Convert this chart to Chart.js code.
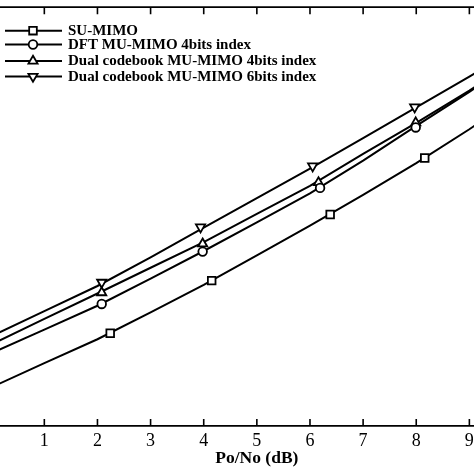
<!DOCTYPE html>
<html>
<head>
<meta charset="utf-8">
<script src="https://cdn.jsdelivr.net/npm/chart.js@4/dist/chart.umd.min.js"></script>
<style>
html,body{margin:0;padding:0;background:#fff;overflow:hidden;width:474px;height:474px;}
#wrap{position:absolute;left:-100px;top:0;width:674px;height:474px;}
</style>
</head>
<body>
<div id="wrap"><canvas id="c" width="674" height="474"></canvas></div>
<script>
// x values (Po/No in dB) for the curves
const snr = [0, 1, 2, 3, 4, 5, 6, 7, 8, 9, 10];
// curve values (y axis is cropped out of the reference)
const suMimo   = [1.29, 2.10, 2.90, 3.80, 4.72, 5.70, 6.70, 7.73, 8.79, 9.92, 11.12];
const dftMu4   = [2.43, 3.22, 4.02, 4.93, 5.85, 6.81, 7.78, 8.87, 10.03, 11.17, 12.39];
const dualMu4  = [2.72, 3.58, 4.43, 5.29, 6.15, 7.09, 8.03, 9.10, 10.13, 11.21, 12.37];
const dualMu6  = [3.00, 3.84, 4.68, 5.64, 6.63, 7.62, 8.60, 9.62, 10.65, 11.68, 12.74];
// marker positions (x, y) as placed in the reference
const suMarkX = [2.24, 4.15, 6.38, 8.16];
const suMarkY = [3.10, 4.86, 7.07, 8.96];
const dftMarkX = [2.08, 3.98, 6.19, 7.99];
const dftMarkY = [4.08, 5.83, 7.96, 9.98];
const d4MarkX = [2.08, 3.98, 6.16, 7.99];
const d4MarkY = [4.46, 6.09, 8.14, 10.14];
const d6MarkX = [2.08, 3.94, 6.05, 7.97];
const d6MarkY = [4.80, 6.65, 8.69, 10.66];
const seriesNames = ['SU-MIMO', 'DFT MU-MIMO 4bits index', 'Dual codebook MU-MIMO 4bits index', 'Dual codebook MU-MIMO 6bits index'];
const xTicks = [0, 1, 2, 3, 4, 5, 6, 7, 8, 9, 10];
const xTitle = 'Po/No (dB)';

const curves = [suMimo, dftMu4, dualMu4, dualMu6];
const marks = [[suMarkX, suMarkY], [dftMarkX, dftMarkY], [d4MarkX, d4MarkY], [d6MarkX, d6MarkY]];
const styles = [
  {pointStyle: 'rect', radius: 5.4, rotation: 0},
  {pointStyle: 'circle', radius: 4.3, rotation: 0},
  {pointStyle: 'triangle', radius: 5.3, rotation: 0},
  {pointStyle: 'triangle', radius: 5.3, rotation: 180}
];

const datasets = [];
curves.forEach((c, i) => {
  datasets.push({
    label: seriesNames[i],
    data: snr.map((x, k) => ({x: x, y: c[k]})),
    borderColor: '#000', borderWidth: 2, pointRadius: 0, fill: false, tension: 0,
    order: 2
  });
});
marks.forEach((m, i) => {
  datasets.push({
    label: seriesNames[i] + ' markers',
    data: m[0].map((x, k) => ({x: x, y: m[1][k]})),
    showLine: false, borderColor: '#000', backgroundColor: '#fff', borderWidth: 1.8,
    pointStyle: styles[i].pointStyle, pointRadius: styles[i].radius, pointRotation: styles[i].rotation,
    order: 1
  });
});

const SERIF = "'Liberation Serif', 'Times New Roman', serif";

const framePlugin = {
  id: 'frame',
  afterDraw(chart) {
    const ctx = chart.ctx, a = chart.chartArea, xs = chart.scales.x;
    ctx.save();
    ctx.strokeStyle = '#000';
    ctx.lineWidth = 1.8;
    ctx.beginPath();
    ctx.moveTo(a.left, a.top); ctx.lineTo(a.right, a.top);
    ctx.stroke();
    ctx.lineWidth = 1.6;
    xs.ticks.forEach(t => {
      const px = xs.getPixelForValue(t.value);
      ctx.beginPath();
      ctx.moveTo(px, a.top); ctx.lineTo(px, a.top + 7);
      ctx.moveTo(px, a.bottom); ctx.lineTo(px, a.bottom - 7);
      ctx.stroke();
    });
    // legend
    const ox = 100;
    const rowsY = [30.7, 44.5, 61, 76.5];
    ctx.font = 'bold 15px ' + SERIF;
    ctx.textBaseline = 'middle';
    seriesNames.forEach((n, i) => {
      const y = rowsY[i];
      ctx.strokeStyle = '#000';
      ctx.lineWidth = 2;
      ctx.beginPath();
      ctx.moveTo(ox + 5, y); ctx.lineTo(ox + 62, y);
      ctx.stroke();
      ctx.lineWidth = 1.8;
      ctx.fillStyle = '#fff';
      Chart.helpers.drawPoint(ctx, {pointStyle: styles[i].pointStyle, radius: styles[i].radius, rotation: styles[i].rotation, borderWidth: 1.8}, ox + 33, y);
      ctx.fillStyle = '#000';
      ctx.fillText(n, ox + 68, y + 0.5);
    });
    ctx.restore();
  }
};

new Chart(document.getElementById('c'), {
  type: 'line',
  data: {datasets: datasets},
  options: {
    responsive: false,
    animation: false,
    devicePixelRatio: 1,
    layout: {padding: {left: 91.2, right: 51.5, top: 5, bottom: 2.5}},
    plugins: {legend: {display: false}, tooltip: {enabled: false}},
    scales: {
      x: {
        type: 'linear', min: 0, max: 10,
        afterBuildTicks: s => { s.ticks = xTicks.map(v => ({value: v})); },
        ticks: {color: '#000', padding: 6, font: {family: SERIF, size: 18, lineHeight: 1}, maxRotation: 0},
        grid: {drawOnChartArea: false, drawTicks: false},
        border: {display: true, color: '#000', width: 1.8},
        title: {display: true, text: xTitle, color: '#000', font: {family: SERIF, size: 17.5, weight: 'bold', lineHeight: 1}, padding: {top: -6, bottom: 4}}
      },
      y: {
        type: 'linear', min: 0, max: 14, display: false
      }
    }
  },
  plugins: [framePlugin]
});
</script>
</body>
</html>
